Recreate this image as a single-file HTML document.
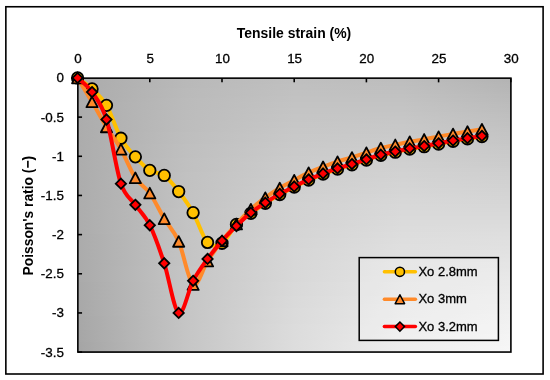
<!DOCTYPE html>
<html><head><meta charset="utf-8"><style>
html,body{margin:0;padding:0;background:#fff;}
svg{display:block;}
text{font-family:"Liberation Sans",Arial,sans-serif;fill:#000;}
</style></head><body>
<svg width="550" height="380" viewBox="0 0 550 380">
<defs>
<linearGradient id="s0" x2="1"><stop offset="0" stop-color="#ababab"/><stop offset="0.25" stop-color="#b8b8b8"/><stop offset="0.5" stop-color="#bfbfbf"/><stop offset="0.75" stop-color="#bdbdbd"/><stop offset="1" stop-color="#b4b4b4"/></linearGradient><linearGradient id="s1" x2="1"><stop offset="0" stop-color="#ababab"/><stop offset="0.25" stop-color="#b9b9b9"/><stop offset="0.5" stop-color="#bfbfbf"/><stop offset="0.75" stop-color="#bdbdbd"/><stop offset="1" stop-color="#b4b4b4"/></linearGradient><linearGradient id="s2" x2="1"><stop offset="0" stop-color="#ababab"/><stop offset="0.25" stop-color="#b9b9b9"/><stop offset="0.5" stop-color="#bfbfbf"/><stop offset="0.75" stop-color="#bebebe"/><stop offset="1" stop-color="#b5b5b5"/></linearGradient><linearGradient id="s3" x2="1"><stop offset="0" stop-color="#ababab"/><stop offset="0.25" stop-color="#b9b9b9"/><stop offset="0.5" stop-color="#c0c0c0"/><stop offset="0.75" stop-color="#bebebe"/><stop offset="1" stop-color="#b6b6b6"/></linearGradient><linearGradient id="s4" x2="1"><stop offset="0" stop-color="#ababab"/><stop offset="0.25" stop-color="#b9b9b9"/><stop offset="0.5" stop-color="#c0c0c0"/><stop offset="0.75" stop-color="#bfbfbf"/><stop offset="1" stop-color="#b6b6b6"/></linearGradient><linearGradient id="s5" x2="1"><stop offset="0" stop-color="#ababab"/><stop offset="0.25" stop-color="#bababa"/><stop offset="0.5" stop-color="#c0c0c0"/><stop offset="0.75" stop-color="#bfbfbf"/><stop offset="1" stop-color="#b7b7b7"/></linearGradient><linearGradient id="s6" x2="1"><stop offset="0" stop-color="#ababab"/><stop offset="0.25" stop-color="#bababa"/><stop offset="0.5" stop-color="#c1c1c1"/><stop offset="0.75" stop-color="#c0c0c0"/><stop offset="1" stop-color="#b7b7b7"/></linearGradient><linearGradient id="s7" x2="1"><stop offset="0" stop-color="#ababab"/><stop offset="0.25" stop-color="#bababa"/><stop offset="0.5" stop-color="#c1c1c1"/><stop offset="0.75" stop-color="#c0c0c0"/><stop offset="1" stop-color="#b8b8b8"/></linearGradient><linearGradient id="s8" x2="1"><stop offset="0" stop-color="#ababab"/><stop offset="0.25" stop-color="#bababa"/><stop offset="0.5" stop-color="#c1c1c1"/><stop offset="0.75" stop-color="#c1c1c1"/><stop offset="1" stop-color="#b9b9b9"/></linearGradient><linearGradient id="s9" x2="1"><stop offset="0" stop-color="#ababab"/><stop offset="0.25" stop-color="#bababa"/><stop offset="0.5" stop-color="#c2c2c2"/><stop offset="0.75" stop-color="#c1c1c1"/><stop offset="1" stop-color="#b9b9b9"/></linearGradient><linearGradient id="s10" x2="1"><stop offset="0" stop-color="#ababab"/><stop offset="0.25" stop-color="#bbbbbb"/><stop offset="0.5" stop-color="#c2c2c2"/><stop offset="0.75" stop-color="#c2c2c2"/><stop offset="1" stop-color="#bababa"/></linearGradient><linearGradient id="s11" x2="1"><stop offset="0" stop-color="#ababab"/><stop offset="0.25" stop-color="#bbbbbb"/><stop offset="0.5" stop-color="#c2c2c2"/><stop offset="0.75" stop-color="#c2c2c2"/><stop offset="1" stop-color="#bababa"/></linearGradient><linearGradient id="s12" x2="1"><stop offset="0" stop-color="#acacac"/><stop offset="0.25" stop-color="#bbbbbb"/><stop offset="0.5" stop-color="#c3c3c3"/><stop offset="0.75" stop-color="#c3c3c3"/><stop offset="1" stop-color="#bbbbbb"/></linearGradient><linearGradient id="s13" x2="1"><stop offset="0" stop-color="#acacac"/><stop offset="0.25" stop-color="#bbbbbb"/><stop offset="0.5" stop-color="#c3c3c3"/><stop offset="0.75" stop-color="#c3c3c3"/><stop offset="1" stop-color="#bcbcbc"/></linearGradient><linearGradient id="s14" x2="1"><stop offset="0" stop-color="#acacac"/><stop offset="0.25" stop-color="#bbbbbb"/><stop offset="0.5" stop-color="#c3c3c3"/><stop offset="0.75" stop-color="#c4c4c4"/><stop offset="1" stop-color="#bcbcbc"/></linearGradient><linearGradient id="s15" x2="1"><stop offset="0" stop-color="#acacac"/><stop offset="0.25" stop-color="#bbbbbb"/><stop offset="0.5" stop-color="#c4c4c4"/><stop offset="0.75" stop-color="#c4c4c4"/><stop offset="1" stop-color="#bdbdbd"/></linearGradient><linearGradient id="s16" x2="1"><stop offset="0" stop-color="#acacac"/><stop offset="0.25" stop-color="#bcbcbc"/><stop offset="0.5" stop-color="#c4c4c4"/><stop offset="0.75" stop-color="#c4c4c4"/><stop offset="1" stop-color="#bdbdbd"/></linearGradient><linearGradient id="s17" x2="1"><stop offset="0" stop-color="#acacac"/><stop offset="0.25" stop-color="#bcbcbc"/><stop offset="0.5" stop-color="#c4c4c4"/><stop offset="0.75" stop-color="#c5c5c5"/><stop offset="1" stop-color="#bebebe"/></linearGradient><linearGradient id="s18" x2="1"><stop offset="0" stop-color="#acacac"/><stop offset="0.25" stop-color="#bcbcbc"/><stop offset="0.5" stop-color="#c5c5c5"/><stop offset="0.75" stop-color="#c5c5c5"/><stop offset="1" stop-color="#bfbfbf"/></linearGradient><linearGradient id="s19" x2="1"><stop offset="0" stop-color="#acacac"/><stop offset="0.25" stop-color="#bcbcbc"/><stop offset="0.5" stop-color="#c5c5c5"/><stop offset="0.75" stop-color="#c6c6c6"/><stop offset="1" stop-color="#bfbfbf"/></linearGradient><linearGradient id="s20" x2="1"><stop offset="0" stop-color="#acacac"/><stop offset="0.25" stop-color="#bcbcbc"/><stop offset="0.5" stop-color="#c5c5c5"/><stop offset="0.75" stop-color="#c6c6c6"/><stop offset="1" stop-color="#c0c0c0"/></linearGradient><linearGradient id="s21" x2="1"><stop offset="0" stop-color="#acacac"/><stop offset="0.25" stop-color="#bdbdbd"/><stop offset="0.5" stop-color="#c5c5c5"/><stop offset="0.75" stop-color="#c7c7c7"/><stop offset="1" stop-color="#c0c0c0"/></linearGradient><linearGradient id="s22" x2="1"><stop offset="0" stop-color="#acacac"/><stop offset="0.25" stop-color="#bdbdbd"/><stop offset="0.5" stop-color="#c6c6c6"/><stop offset="0.75" stop-color="#c7c7c7"/><stop offset="1" stop-color="#c1c1c1"/></linearGradient><linearGradient id="s23" x2="1"><stop offset="0" stop-color="#acacac"/><stop offset="0.25" stop-color="#bdbdbd"/><stop offset="0.5" stop-color="#c6c6c6"/><stop offset="0.75" stop-color="#c8c8c8"/><stop offset="1" stop-color="#c1c1c1"/></linearGradient><linearGradient id="s24" x2="1"><stop offset="0" stop-color="#acacac"/><stop offset="0.25" stop-color="#bdbdbd"/><stop offset="0.5" stop-color="#c6c6c6"/><stop offset="0.75" stop-color="#c8c8c8"/><stop offset="1" stop-color="#c2c2c2"/></linearGradient><linearGradient id="s25" x2="1"><stop offset="0" stop-color="#acacac"/><stop offset="0.25" stop-color="#bdbdbd"/><stop offset="0.5" stop-color="#c7c7c7"/><stop offset="0.75" stop-color="#c8c8c8"/><stop offset="1" stop-color="#c3c3c3"/></linearGradient><linearGradient id="s26" x2="1"><stop offset="0" stop-color="#acacac"/><stop offset="0.25" stop-color="#bdbdbd"/><stop offset="0.5" stop-color="#c7c7c7"/><stop offset="0.75" stop-color="#c9c9c9"/><stop offset="1" stop-color="#c3c3c3"/></linearGradient><linearGradient id="s27" x2="1"><stop offset="0" stop-color="#acacac"/><stop offset="0.25" stop-color="#bebebe"/><stop offset="0.5" stop-color="#c7c7c7"/><stop offset="0.75" stop-color="#c9c9c9"/><stop offset="1" stop-color="#c4c4c4"/></linearGradient><linearGradient id="s28" x2="1"><stop offset="0" stop-color="#acacac"/><stop offset="0.25" stop-color="#bebebe"/><stop offset="0.5" stop-color="#c8c8c8"/><stop offset="0.75" stop-color="#cacaca"/><stop offset="1" stop-color="#c4c4c4"/></linearGradient><linearGradient id="s29" x2="1"><stop offset="0" stop-color="#acacac"/><stop offset="0.25" stop-color="#bebebe"/><stop offset="0.5" stop-color="#c8c8c8"/><stop offset="0.75" stop-color="#cacaca"/><stop offset="1" stop-color="#c5c5c5"/></linearGradient><linearGradient id="s30" x2="1"><stop offset="0" stop-color="#acacac"/><stop offset="0.25" stop-color="#bebebe"/><stop offset="0.5" stop-color="#c8c8c8"/><stop offset="0.75" stop-color="#cbcbcb"/><stop offset="1" stop-color="#c5c5c5"/></linearGradient><linearGradient id="s31" x2="1"><stop offset="0" stop-color="#acacac"/><stop offset="0.25" stop-color="#bebebe"/><stop offset="0.5" stop-color="#c8c8c8"/><stop offset="0.75" stop-color="#cbcbcb"/><stop offset="1" stop-color="#c6c6c6"/></linearGradient><linearGradient id="s32" x2="1"><stop offset="0" stop-color="#acacac"/><stop offset="0.25" stop-color="#bebebe"/><stop offset="0.5" stop-color="#c9c9c9"/><stop offset="0.75" stop-color="#cbcbcb"/><stop offset="1" stop-color="#c6c6c6"/></linearGradient><linearGradient id="s33" x2="1"><stop offset="0" stop-color="#acacac"/><stop offset="0.25" stop-color="#bfbfbf"/><stop offset="0.5" stop-color="#c9c9c9"/><stop offset="0.75" stop-color="#cccccc"/><stop offset="1" stop-color="#c7c7c7"/></linearGradient><linearGradient id="s34" x2="1"><stop offset="0" stop-color="#acacac"/><stop offset="0.25" stop-color="#bfbfbf"/><stop offset="0.5" stop-color="#c9c9c9"/><stop offset="0.75" stop-color="#cccccc"/><stop offset="1" stop-color="#c8c8c8"/></linearGradient><linearGradient id="s35" x2="1"><stop offset="0" stop-color="#acacac"/><stop offset="0.25" stop-color="#bfbfbf"/><stop offset="0.5" stop-color="#cacaca"/><stop offset="0.75" stop-color="#cdcdcd"/><stop offset="1" stop-color="#c8c8c8"/></linearGradient><linearGradient id="s36" x2="1"><stop offset="0" stop-color="#acacac"/><stop offset="0.25" stop-color="#bfbfbf"/><stop offset="0.5" stop-color="#cacaca"/><stop offset="0.75" stop-color="#cdcdcd"/><stop offset="1" stop-color="#c9c9c9"/></linearGradient><linearGradient id="s37" x2="1"><stop offset="0" stop-color="#acacac"/><stop offset="0.25" stop-color="#bfbfbf"/><stop offset="0.5" stop-color="#cacaca"/><stop offset="0.75" stop-color="#cecece"/><stop offset="1" stop-color="#c9c9c9"/></linearGradient><linearGradient id="s38" x2="1"><stop offset="0" stop-color="#acacac"/><stop offset="0.25" stop-color="#bfbfbf"/><stop offset="0.5" stop-color="#cacaca"/><stop offset="0.75" stop-color="#cecece"/><stop offset="1" stop-color="#cacaca"/></linearGradient><linearGradient id="s39" x2="1"><stop offset="0" stop-color="#acacac"/><stop offset="0.25" stop-color="#bfbfbf"/><stop offset="0.5" stop-color="#cbcbcb"/><stop offset="0.75" stop-color="#cecece"/><stop offset="1" stop-color="#cacaca"/></linearGradient><linearGradient id="s40" x2="1"><stop offset="0" stop-color="#acacac"/><stop offset="0.25" stop-color="#c0c0c0"/><stop offset="0.5" stop-color="#cbcbcb"/><stop offset="0.75" stop-color="#cfcfcf"/><stop offset="1" stop-color="#cbcbcb"/></linearGradient><linearGradient id="s41" x2="1"><stop offset="0" stop-color="#acacac"/><stop offset="0.25" stop-color="#c0c0c0"/><stop offset="0.5" stop-color="#cbcbcb"/><stop offset="0.75" stop-color="#cfcfcf"/><stop offset="1" stop-color="#cbcbcb"/></linearGradient><linearGradient id="s42" x2="1"><stop offset="0" stop-color="#acacac"/><stop offset="0.25" stop-color="#c0c0c0"/><stop offset="0.5" stop-color="#cccccc"/><stop offset="0.75" stop-color="#d0d0d0"/><stop offset="1" stop-color="#cccccc"/></linearGradient><linearGradient id="s43" x2="1"><stop offset="0" stop-color="#acacac"/><stop offset="0.25" stop-color="#c0c0c0"/><stop offset="0.5" stop-color="#cccccc"/><stop offset="0.75" stop-color="#d0d0d0"/><stop offset="1" stop-color="#cccccc"/></linearGradient><linearGradient id="s44" x2="1"><stop offset="0" stop-color="#acacac"/><stop offset="0.25" stop-color="#c0c0c0"/><stop offset="0.5" stop-color="#cccccc"/><stop offset="0.75" stop-color="#d0d0d0"/><stop offset="1" stop-color="#cdcdcd"/></linearGradient><linearGradient id="s45" x2="1"><stop offset="0" stop-color="#acacac"/><stop offset="0.25" stop-color="#c0c0c0"/><stop offset="0.5" stop-color="#cccccc"/><stop offset="0.75" stop-color="#d1d1d1"/><stop offset="1" stop-color="#cecece"/></linearGradient><linearGradient id="s46" x2="1"><stop offset="0" stop-color="#acacac"/><stop offset="0.25" stop-color="#c0c0c0"/><stop offset="0.5" stop-color="#cdcdcd"/><stop offset="0.75" stop-color="#d1d1d1"/><stop offset="1" stop-color="#cecece"/></linearGradient><linearGradient id="s47" x2="1"><stop offset="0" stop-color="#acacac"/><stop offset="0.25" stop-color="#c1c1c1"/><stop offset="0.5" stop-color="#cdcdcd"/><stop offset="0.75" stop-color="#d2d2d2"/><stop offset="1" stop-color="#cfcfcf"/></linearGradient><linearGradient id="s48" x2="1"><stop offset="0" stop-color="#acacac"/><stop offset="0.25" stop-color="#c1c1c1"/><stop offset="0.5" stop-color="#cdcdcd"/><stop offset="0.75" stop-color="#d2d2d2"/><stop offset="1" stop-color="#cfcfcf"/></linearGradient><linearGradient id="s49" x2="1"><stop offset="0" stop-color="#acacac"/><stop offset="0.25" stop-color="#c1c1c1"/><stop offset="0.5" stop-color="#cdcdcd"/><stop offset="0.75" stop-color="#d2d2d2"/><stop offset="1" stop-color="#d0d0d0"/></linearGradient><linearGradient id="s50" x2="1"><stop offset="0" stop-color="#acacac"/><stop offset="0.25" stop-color="#c1c1c1"/><stop offset="0.5" stop-color="#cecece"/><stop offset="0.75" stop-color="#d3d3d3"/><stop offset="1" stop-color="#d0d0d0"/></linearGradient><linearGradient id="s51" x2="1"><stop offset="0" stop-color="#acacac"/><stop offset="0.25" stop-color="#c1c1c1"/><stop offset="0.5" stop-color="#cecece"/><stop offset="0.75" stop-color="#d3d3d3"/><stop offset="1" stop-color="#d1d1d1"/></linearGradient><linearGradient id="s52" x2="1"><stop offset="0" stop-color="#acacac"/><stop offset="0.25" stop-color="#c1c1c1"/><stop offset="0.5" stop-color="#cecece"/><stop offset="0.75" stop-color="#d4d4d4"/><stop offset="1" stop-color="#d1d1d1"/></linearGradient><linearGradient id="s53" x2="1"><stop offset="0" stop-color="#acacac"/><stop offset="0.25" stop-color="#c1c1c1"/><stop offset="0.5" stop-color="#cecece"/><stop offset="0.75" stop-color="#d4d4d4"/><stop offset="1" stop-color="#d2d2d2"/></linearGradient><linearGradient id="s54" x2="1"><stop offset="0" stop-color="#acacac"/><stop offset="0.25" stop-color="#c1c1c1"/><stop offset="0.5" stop-color="#cfcfcf"/><stop offset="0.75" stop-color="#d4d4d4"/><stop offset="1" stop-color="#d2d2d2"/></linearGradient><linearGradient id="s55" x2="1"><stop offset="0" stop-color="#acacac"/><stop offset="0.25" stop-color="#c1c1c1"/><stop offset="0.5" stop-color="#cfcfcf"/><stop offset="0.75" stop-color="#d5d5d5"/><stop offset="1" stop-color="#d3d3d3"/></linearGradient><linearGradient id="s56" x2="1"><stop offset="0" stop-color="#acacac"/><stop offset="0.25" stop-color="#c2c2c2"/><stop offset="0.5" stop-color="#cfcfcf"/><stop offset="0.75" stop-color="#d5d5d5"/><stop offset="1" stop-color="#d3d3d3"/></linearGradient><linearGradient id="s57" x2="1"><stop offset="0" stop-color="#acacac"/><stop offset="0.25" stop-color="#c2c2c2"/><stop offset="0.5" stop-color="#cfcfcf"/><stop offset="0.75" stop-color="#d5d5d5"/><stop offset="1" stop-color="#d4d4d4"/></linearGradient><linearGradient id="s58" x2="1"><stop offset="0" stop-color="#acacac"/><stop offset="0.25" stop-color="#c2c2c2"/><stop offset="0.5" stop-color="#d0d0d0"/><stop offset="0.75" stop-color="#d6d6d6"/><stop offset="1" stop-color="#d4d4d4"/></linearGradient><linearGradient id="s59" x2="1"><stop offset="0" stop-color="#acacac"/><stop offset="0.25" stop-color="#c2c2c2"/><stop offset="0.5" stop-color="#d0d0d0"/><stop offset="0.75" stop-color="#d6d6d6"/><stop offset="1" stop-color="#d5d5d5"/></linearGradient><linearGradient id="s60" x2="1"><stop offset="0" stop-color="#acacac"/><stop offset="0.25" stop-color="#c2c2c2"/><stop offset="0.5" stop-color="#d0d0d0"/><stop offset="0.75" stop-color="#d7d7d7"/><stop offset="1" stop-color="#d5d5d5"/></linearGradient><linearGradient id="s61" x2="1"><stop offset="0" stop-color="#acacac"/><stop offset="0.25" stop-color="#c2c2c2"/><stop offset="0.5" stop-color="#d0d0d0"/><stop offset="0.75" stop-color="#d7d7d7"/><stop offset="1" stop-color="#d6d6d6"/></linearGradient><linearGradient id="s62" x2="1"><stop offset="0" stop-color="#acacac"/><stop offset="0.25" stop-color="#c2c2c2"/><stop offset="0.5" stop-color="#d1d1d1"/><stop offset="0.75" stop-color="#d7d7d7"/><stop offset="1" stop-color="#d6d6d6"/></linearGradient><linearGradient id="s63" x2="1"><stop offset="0" stop-color="#acacac"/><stop offset="0.25" stop-color="#c2c2c2"/><stop offset="0.5" stop-color="#d1d1d1"/><stop offset="0.75" stop-color="#d8d8d8"/><stop offset="1" stop-color="#d7d7d7"/></linearGradient><linearGradient id="s64" x2="1"><stop offset="0" stop-color="#acacac"/><stop offset="0.25" stop-color="#c2c2c2"/><stop offset="0.5" stop-color="#d1d1d1"/><stop offset="0.75" stop-color="#d8d8d8"/><stop offset="1" stop-color="#d7d7d7"/></linearGradient><linearGradient id="s65" x2="1"><stop offset="0" stop-color="#acacac"/><stop offset="0.25" stop-color="#c3c3c3"/><stop offset="0.5" stop-color="#d1d1d1"/><stop offset="0.75" stop-color="#d8d8d8"/><stop offset="1" stop-color="#d8d8d8"/></linearGradient><linearGradient id="s66" x2="1"><stop offset="0" stop-color="#acacac"/><stop offset="0.25" stop-color="#c3c3c3"/><stop offset="0.5" stop-color="#d2d2d2"/><stop offset="0.75" stop-color="#d9d9d9"/><stop offset="1" stop-color="#d8d8d8"/></linearGradient><linearGradient id="s67" x2="1"><stop offset="0" stop-color="#acacac"/><stop offset="0.25" stop-color="#c3c3c3"/><stop offset="0.5" stop-color="#d2d2d2"/><stop offset="0.75" stop-color="#d9d9d9"/><stop offset="1" stop-color="#d9d9d9"/></linearGradient><linearGradient id="s68" x2="1"><stop offset="0" stop-color="#acacac"/><stop offset="0.25" stop-color="#c3c3c3"/><stop offset="0.5" stop-color="#d2d2d2"/><stop offset="0.75" stop-color="#d9d9d9"/><stop offset="1" stop-color="#d9d9d9"/></linearGradient><linearGradient id="s69" x2="1"><stop offset="0" stop-color="#acacac"/><stop offset="0.25" stop-color="#c3c3c3"/><stop offset="0.5" stop-color="#d2d2d2"/><stop offset="0.75" stop-color="#dadada"/><stop offset="1" stop-color="#dadada"/></linearGradient><linearGradient id="s70" x2="1"><stop offset="0" stop-color="#acacac"/><stop offset="0.25" stop-color="#c3c3c3"/><stop offset="0.5" stop-color="#d2d2d2"/><stop offset="0.75" stop-color="#dadada"/><stop offset="1" stop-color="#dadada"/></linearGradient><linearGradient id="s71" x2="1"><stop offset="0" stop-color="#acacac"/><stop offset="0.25" stop-color="#c3c3c3"/><stop offset="0.5" stop-color="#d3d3d3"/><stop offset="0.75" stop-color="#dbdbdb"/><stop offset="1" stop-color="#dbdbdb"/></linearGradient><linearGradient id="s72" x2="1"><stop offset="0" stop-color="#acacac"/><stop offset="0.25" stop-color="#c3c3c3"/><stop offset="0.5" stop-color="#d3d3d3"/><stop offset="0.75" stop-color="#dbdbdb"/><stop offset="1" stop-color="#dbdbdb"/></linearGradient><linearGradient id="s73" x2="1"><stop offset="0" stop-color="#acacac"/><stop offset="0.25" stop-color="#c3c3c3"/><stop offset="0.5" stop-color="#d3d3d3"/><stop offset="0.75" stop-color="#dbdbdb"/><stop offset="1" stop-color="#dcdcdc"/></linearGradient><linearGradient id="s74" x2="1"><stop offset="0" stop-color="#acacac"/><stop offset="0.25" stop-color="#c3c3c3"/><stop offset="0.5" stop-color="#d3d3d3"/><stop offset="0.75" stop-color="#dcdcdc"/><stop offset="1" stop-color="#dcdcdc"/></linearGradient><linearGradient id="s75" x2="1"><stop offset="0" stop-color="#acacac"/><stop offset="0.25" stop-color="#c3c3c3"/><stop offset="0.5" stop-color="#d4d4d4"/><stop offset="0.75" stop-color="#dcdcdc"/><stop offset="1" stop-color="#dddddd"/></linearGradient><linearGradient id="s76" x2="1"><stop offset="0" stop-color="#acacac"/><stop offset="0.25" stop-color="#c3c3c3"/><stop offset="0.5" stop-color="#d4d4d4"/><stop offset="0.75" stop-color="#dcdcdc"/><stop offset="1" stop-color="#dddddd"/></linearGradient><linearGradient id="s77" x2="1"><stop offset="0" stop-color="#acacac"/><stop offset="0.25" stop-color="#c4c4c4"/><stop offset="0.5" stop-color="#d4d4d4"/><stop offset="0.75" stop-color="#dddddd"/><stop offset="1" stop-color="#dedede"/></linearGradient><linearGradient id="s78" x2="1"><stop offset="0" stop-color="#ababab"/><stop offset="0.25" stop-color="#c4c4c4"/><stop offset="0.5" stop-color="#d4d4d4"/><stop offset="0.75" stop-color="#dddddd"/><stop offset="1" stop-color="#dedede"/></linearGradient><linearGradient id="s79" x2="1"><stop offset="0" stop-color="#ababab"/><stop offset="0.25" stop-color="#c4c4c4"/><stop offset="0.5" stop-color="#d4d4d4"/><stop offset="0.75" stop-color="#dddddd"/><stop offset="1" stop-color="#dfdfdf"/></linearGradient><linearGradient id="s80" x2="1"><stop offset="0" stop-color="#ababab"/><stop offset="0.25" stop-color="#c4c4c4"/><stop offset="0.5" stop-color="#d5d5d5"/><stop offset="0.75" stop-color="#dedede"/><stop offset="1" stop-color="#dfdfdf"/></linearGradient><linearGradient id="s81" x2="1"><stop offset="0" stop-color="#ababab"/><stop offset="0.25" stop-color="#c4c4c4"/><stop offset="0.5" stop-color="#d5d5d5"/><stop offset="0.75" stop-color="#dedede"/><stop offset="1" stop-color="#e0e0e0"/></linearGradient><linearGradient id="s82" x2="1"><stop offset="0" stop-color="#ababab"/><stop offset="0.25" stop-color="#c4c4c4"/><stop offset="0.5" stop-color="#d5d5d5"/><stop offset="0.75" stop-color="#dedede"/><stop offset="1" stop-color="#e0e0e0"/></linearGradient><linearGradient id="s83" x2="1"><stop offset="0" stop-color="#ababab"/><stop offset="0.25" stop-color="#c4c4c4"/><stop offset="0.5" stop-color="#d5d5d5"/><stop offset="0.75" stop-color="#dfdfdf"/><stop offset="1" stop-color="#e0e0e0"/></linearGradient><linearGradient id="s84" x2="1"><stop offset="0" stop-color="#ababab"/><stop offset="0.25" stop-color="#c4c4c4"/><stop offset="0.5" stop-color="#d5d5d5"/><stop offset="0.75" stop-color="#dfdfdf"/><stop offset="1" stop-color="#e1e1e1"/></linearGradient><linearGradient id="s85" x2="1"><stop offset="0" stop-color="#ababab"/><stop offset="0.25" stop-color="#c4c4c4"/><stop offset="0.5" stop-color="#d6d6d6"/><stop offset="0.75" stop-color="#dfdfdf"/><stop offset="1" stop-color="#e1e1e1"/></linearGradient><linearGradient id="s86" x2="1"><stop offset="0" stop-color="#ababab"/><stop offset="0.25" stop-color="#c4c4c4"/><stop offset="0.5" stop-color="#d6d6d6"/><stop offset="0.75" stop-color="#e0e0e0"/><stop offset="1" stop-color="#e2e2e2"/></linearGradient><linearGradient id="s87" x2="1"><stop offset="0" stop-color="#ababab"/><stop offset="0.25" stop-color="#c4c4c4"/><stop offset="0.5" stop-color="#d6d6d6"/><stop offset="0.75" stop-color="#e0e0e0"/><stop offset="1" stop-color="#e2e2e2"/></linearGradient><linearGradient id="s88" x2="1"><stop offset="0" stop-color="#ababab"/><stop offset="0.25" stop-color="#c4c4c4"/><stop offset="0.5" stop-color="#d6d6d6"/><stop offset="0.75" stop-color="#e0e0e0"/><stop offset="1" stop-color="#e3e3e3"/></linearGradient><linearGradient id="s89" x2="1"><stop offset="0" stop-color="#ababab"/><stop offset="0.25" stop-color="#c4c4c4"/><stop offset="0.5" stop-color="#d6d6d6"/><stop offset="0.75" stop-color="#e1e1e1"/><stop offset="1" stop-color="#e3e3e3"/></linearGradient><linearGradient id="s90" x2="1"><stop offset="0" stop-color="#ababab"/><stop offset="0.25" stop-color="#c4c4c4"/><stop offset="0.5" stop-color="#d6d6d6"/><stop offset="0.75" stop-color="#e1e1e1"/><stop offset="1" stop-color="#e4e4e4"/></linearGradient><linearGradient id="s91" x2="1"><stop offset="0" stop-color="#aaaaaa"/><stop offset="0.25" stop-color="#c4c4c4"/><stop offset="0.5" stop-color="#d7d7d7"/><stop offset="0.75" stop-color="#e1e1e1"/><stop offset="1" stop-color="#e4e4e4"/></linearGradient><linearGradient id="s92" x2="1"><stop offset="0" stop-color="#aaaaaa"/><stop offset="0.25" stop-color="#c4c4c4"/><stop offset="0.5" stop-color="#d7d7d7"/><stop offset="0.75" stop-color="#e2e2e2"/><stop offset="1" stop-color="#e5e5e5"/></linearGradient><linearGradient id="s93" x2="1"><stop offset="0" stop-color="#aaaaaa"/><stop offset="0.25" stop-color="#c4c4c4"/><stop offset="0.5" stop-color="#d7d7d7"/><stop offset="0.75" stop-color="#e2e2e2"/><stop offset="1" stop-color="#e5e5e5"/></linearGradient><linearGradient id="s94" x2="1"><stop offset="0" stop-color="#aaaaaa"/><stop offset="0.25" stop-color="#c5c5c5"/><stop offset="0.5" stop-color="#d7d7d7"/><stop offset="0.75" stop-color="#e2e2e2"/><stop offset="1" stop-color="#e5e5e5"/></linearGradient><linearGradient id="s95" x2="1"><stop offset="0" stop-color="#aaaaaa"/><stop offset="0.25" stop-color="#c5c5c5"/><stop offset="0.5" stop-color="#d7d7d7"/><stop offset="0.75" stop-color="#e2e2e2"/><stop offset="1" stop-color="#e6e6e6"/></linearGradient><linearGradient id="s96" x2="1"><stop offset="0" stop-color="#aaaaaa"/><stop offset="0.25" stop-color="#c5c5c5"/><stop offset="0.5" stop-color="#d8d8d8"/><stop offset="0.75" stop-color="#e3e3e3"/><stop offset="1" stop-color="#e6e6e6"/></linearGradient><linearGradient id="s97" x2="1"><stop offset="0" stop-color="#aaaaaa"/><stop offset="0.25" stop-color="#c5c5c5"/><stop offset="0.5" stop-color="#d8d8d8"/><stop offset="0.75" stop-color="#e3e3e3"/><stop offset="1" stop-color="#e7e7e7"/></linearGradient><linearGradient id="s98" x2="1"><stop offset="0" stop-color="#aaaaaa"/><stop offset="0.25" stop-color="#c5c5c5"/><stop offset="0.5" stop-color="#d8d8d8"/><stop offset="0.75" stop-color="#e3e3e3"/><stop offset="1" stop-color="#e7e7e7"/></linearGradient><linearGradient id="s99" x2="1"><stop offset="0" stop-color="#aaaaaa"/><stop offset="0.25" stop-color="#c5c5c5"/><stop offset="0.5" stop-color="#d8d8d8"/><stop offset="0.75" stop-color="#e4e4e4"/><stop offset="1" stop-color="#e8e8e8"/></linearGradient><linearGradient id="s100" x2="1"><stop offset="0" stop-color="#aaaaaa"/><stop offset="0.25" stop-color="#c5c5c5"/><stop offset="0.5" stop-color="#d8d8d8"/><stop offset="0.75" stop-color="#e4e4e4"/><stop offset="1" stop-color="#e8e8e8"/></linearGradient><linearGradient id="s101" x2="1"><stop offset="0" stop-color="#aaaaaa"/><stop offset="0.25" stop-color="#c5c5c5"/><stop offset="0.5" stop-color="#d8d8d8"/><stop offset="0.75" stop-color="#e4e4e4"/><stop offset="1" stop-color="#e9e9e9"/></linearGradient><linearGradient id="s102" x2="1"><stop offset="0" stop-color="#a9a9a9"/><stop offset="0.25" stop-color="#c5c5c5"/><stop offset="0.5" stop-color="#d9d9d9"/><stop offset="0.75" stop-color="#e5e5e5"/><stop offset="1" stop-color="#e9e9e9"/></linearGradient><linearGradient id="s103" x2="1"><stop offset="0" stop-color="#a9a9a9"/><stop offset="0.25" stop-color="#c5c5c5"/><stop offset="0.5" stop-color="#d9d9d9"/><stop offset="0.75" stop-color="#e5e5e5"/><stop offset="1" stop-color="#e9e9e9"/></linearGradient><linearGradient id="s104" x2="1"><stop offset="0" stop-color="#a9a9a9"/><stop offset="0.25" stop-color="#c5c5c5"/><stop offset="0.5" stop-color="#d9d9d9"/><stop offset="0.75" stop-color="#e5e5e5"/><stop offset="1" stop-color="#eaeaea"/></linearGradient><linearGradient id="s105" x2="1"><stop offset="0" stop-color="#a9a9a9"/><stop offset="0.25" stop-color="#c5c5c5"/><stop offset="0.5" stop-color="#d9d9d9"/><stop offset="0.75" stop-color="#e5e5e5"/><stop offset="1" stop-color="#eaeaea"/></linearGradient><linearGradient id="s106" x2="1"><stop offset="0" stop-color="#a9a9a9"/><stop offset="0.25" stop-color="#c5c5c5"/><stop offset="0.5" stop-color="#d9d9d9"/><stop offset="0.75" stop-color="#e6e6e6"/><stop offset="1" stop-color="#ebebeb"/></linearGradient><linearGradient id="s107" x2="1"><stop offset="0" stop-color="#a9a9a9"/><stop offset="0.25" stop-color="#c5c5c5"/><stop offset="0.5" stop-color="#d9d9d9"/><stop offset="0.75" stop-color="#e6e6e6"/><stop offset="1" stop-color="#ebebeb"/></linearGradient><linearGradient id="s108" x2="1"><stop offset="0" stop-color="#a9a9a9"/><stop offset="0.25" stop-color="#c5c5c5"/><stop offset="0.5" stop-color="#d9d9d9"/><stop offset="0.75" stop-color="#e6e6e6"/><stop offset="1" stop-color="#ececec"/></linearGradient><linearGradient id="s109" x2="1"><stop offset="0" stop-color="#a9a9a9"/><stop offset="0.25" stop-color="#c5c5c5"/><stop offset="0.5" stop-color="#dadada"/><stop offset="0.75" stop-color="#e7e7e7"/><stop offset="1" stop-color="#ececec"/></linearGradient><linearGradient id="s110" x2="1"><stop offset="0" stop-color="#a9a9a9"/><stop offset="0.25" stop-color="#c5c5c5"/><stop offset="0.5" stop-color="#dadada"/><stop offset="0.75" stop-color="#e7e7e7"/><stop offset="1" stop-color="#ececec"/></linearGradient><linearGradient id="s111" x2="1"><stop offset="0" stop-color="#a8a8a8"/><stop offset="0.25" stop-color="#c5c5c5"/><stop offset="0.5" stop-color="#dadada"/><stop offset="0.75" stop-color="#e7e7e7"/><stop offset="1" stop-color="#ededed"/></linearGradient><linearGradient id="s112" x2="1"><stop offset="0" stop-color="#a8a8a8"/><stop offset="0.25" stop-color="#c5c5c5"/><stop offset="0.5" stop-color="#dadada"/><stop offset="0.75" stop-color="#e7e7e7"/><stop offset="1" stop-color="#ededed"/></linearGradient><linearGradient id="s113" x2="1"><stop offset="0" stop-color="#a8a8a8"/><stop offset="0.25" stop-color="#c5c5c5"/><stop offset="0.5" stop-color="#dadada"/><stop offset="0.75" stop-color="#e8e8e8"/><stop offset="1" stop-color="#eeeeee"/></linearGradient><linearGradient id="s114" x2="1"><stop offset="0" stop-color="#a8a8a8"/><stop offset="0.25" stop-color="#c5c5c5"/><stop offset="0.5" stop-color="#dadada"/><stop offset="0.75" stop-color="#e8e8e8"/><stop offset="1" stop-color="#eeeeee"/></linearGradient><linearGradient id="s115" x2="1"><stop offset="0" stop-color="#a8a8a8"/><stop offset="0.25" stop-color="#c5c5c5"/><stop offset="0.5" stop-color="#dbdbdb"/><stop offset="0.75" stop-color="#e8e8e8"/><stop offset="1" stop-color="#eeeeee"/></linearGradient><linearGradient id="s116" x2="1"><stop offset="0" stop-color="#a8a8a8"/><stop offset="0.25" stop-color="#c5c5c5"/><stop offset="0.5" stop-color="#dbdbdb"/><stop offset="0.75" stop-color="#e9e9e9"/><stop offset="1" stop-color="#efefef"/></linearGradient><linearGradient id="s117" x2="1"><stop offset="0" stop-color="#a8a8a8"/><stop offset="0.25" stop-color="#c5c5c5"/><stop offset="0.5" stop-color="#dbdbdb"/><stop offset="0.75" stop-color="#e9e9e9"/><stop offset="1" stop-color="#efefef"/></linearGradient><linearGradient id="s118" x2="1"><stop offset="0" stop-color="#a8a8a8"/><stop offset="0.25" stop-color="#c5c5c5"/><stop offset="0.5" stop-color="#dbdbdb"/><stop offset="0.75" stop-color="#e9e9e9"/><stop offset="1" stop-color="#f0f0f0"/></linearGradient><linearGradient id="s119" x2="1"><stop offset="0" stop-color="#a7a7a7"/><stop offset="0.25" stop-color="#c5c5c5"/><stop offset="0.5" stop-color="#dbdbdb"/><stop offset="0.75" stop-color="#e9e9e9"/><stop offset="1" stop-color="#f0f0f0"/></linearGradient><linearGradient id="s120" x2="1"><stop offset="0" stop-color="#a7a7a7"/><stop offset="0.25" stop-color="#c5c5c5"/><stop offset="0.5" stop-color="#dbdbdb"/><stop offset="0.75" stop-color="#eaeaea"/><stop offset="1" stop-color="#f0f0f0"/></linearGradient><linearGradient id="s121" x2="1"><stop offset="0" stop-color="#a7a7a7"/><stop offset="0.25" stop-color="#c5c5c5"/><stop offset="0.5" stop-color="#dbdbdb"/><stop offset="0.75" stop-color="#eaeaea"/><stop offset="1" stop-color="#f1f1f1"/></linearGradient><linearGradient id="s122" x2="1"><stop offset="0" stop-color="#a7a7a7"/><stop offset="0.25" stop-color="#c5c5c5"/><stop offset="0.5" stop-color="#dbdbdb"/><stop offset="0.75" stop-color="#eaeaea"/><stop offset="1" stop-color="#f1f1f1"/></linearGradient><linearGradient id="s123" x2="1"><stop offset="0" stop-color="#a7a7a7"/><stop offset="0.25" stop-color="#c5c5c5"/><stop offset="0.5" stop-color="#dcdcdc"/><stop offset="0.75" stop-color="#eaeaea"/><stop offset="1" stop-color="#f2f2f2"/></linearGradient><linearGradient id="s124" x2="1"><stop offset="0" stop-color="#a7a7a7"/><stop offset="0.25" stop-color="#c5c5c5"/><stop offset="0.5" stop-color="#dcdcdc"/><stop offset="0.75" stop-color="#ebebeb"/><stop offset="1" stop-color="#f2f2f2"/></linearGradient><linearGradient id="s125" x2="1"><stop offset="0" stop-color="#a7a7a7"/><stop offset="0.25" stop-color="#c5c5c5"/><stop offset="0.5" stop-color="#dcdcdc"/><stop offset="0.75" stop-color="#ebebeb"/><stop offset="1" stop-color="#f2f2f2"/></linearGradient><linearGradient id="s126" x2="1"><stop offset="0" stop-color="#a6a6a6"/><stop offset="0.25" stop-color="#c5c5c5"/><stop offset="0.5" stop-color="#dcdcdc"/><stop offset="0.75" stop-color="#ebebeb"/><stop offset="1" stop-color="#f3f3f3"/></linearGradient><linearGradient id="s127" x2="1"><stop offset="0" stop-color="#a6a6a6"/><stop offset="0.25" stop-color="#c5c5c5"/><stop offset="0.5" stop-color="#dcdcdc"/><stop offset="0.75" stop-color="#ebebeb"/><stop offset="1" stop-color="#f3f3f3"/></linearGradient><linearGradient id="s128" x2="1"><stop offset="0" stop-color="#a6a6a6"/><stop offset="0.25" stop-color="#c5c5c5"/><stop offset="0.5" stop-color="#dcdcdc"/><stop offset="0.75" stop-color="#ececec"/><stop offset="1" stop-color="#f4f4f4"/></linearGradient><linearGradient id="s129" x2="1"><stop offset="0" stop-color="#a6a6a6"/><stop offset="0.25" stop-color="#c5c5c5"/><stop offset="0.5" stop-color="#dcdcdc"/><stop offset="0.75" stop-color="#ececec"/><stop offset="1" stop-color="#f4f4f4"/></linearGradient><linearGradient id="s130" x2="1"><stop offset="0" stop-color="#a6a6a6"/><stop offset="0.25" stop-color="#c5c5c5"/><stop offset="0.5" stop-color="#dcdcdc"/><stop offset="0.75" stop-color="#ececec"/><stop offset="1" stop-color="#f4f4f4"/></linearGradient><linearGradient id="s131" x2="1"><stop offset="0" stop-color="#a6a6a6"/><stop offset="0.25" stop-color="#c5c5c5"/><stop offset="0.5" stop-color="#dddddd"/><stop offset="0.75" stop-color="#ececec"/><stop offset="1" stop-color="#f5f5f5"/></linearGradient><linearGradient id="s132" x2="1"><stop offset="0" stop-color="#a5a5a5"/><stop offset="0.25" stop-color="#c5c5c5"/><stop offset="0.5" stop-color="#dddddd"/><stop offset="0.75" stop-color="#ededed"/><stop offset="1" stop-color="#f5f5f5"/></linearGradient><linearGradient id="s133" x2="1"><stop offset="0" stop-color="#a5a5a5"/><stop offset="0.25" stop-color="#c5c5c5"/><stop offset="0.5" stop-color="#dddddd"/><stop offset="0.75" stop-color="#ededed"/><stop offset="1" stop-color="#f5f5f5"/></linearGradient><linearGradient id="s134" x2="1"><stop offset="0" stop-color="#a5a5a5"/><stop offset="0.25" stop-color="#c5c5c5"/><stop offset="0.5" stop-color="#dddddd"/><stop offset="0.75" stop-color="#ededed"/><stop offset="1" stop-color="#f6f6f6"/></linearGradient><linearGradient id="s135" x2="1"><stop offset="0" stop-color="#a5a5a5"/><stop offset="0.25" stop-color="#c5c5c5"/><stop offset="0.5" stop-color="#dddddd"/><stop offset="0.75" stop-color="#ededed"/><stop offset="1" stop-color="#f6f6f6"/></linearGradient><linearGradient id="s136" x2="1"><stop offset="0" stop-color="#a5a5a5"/><stop offset="0.25" stop-color="#c5c5c5"/><stop offset="0.5" stop-color="#dddddd"/><stop offset="0.75" stop-color="#eeeeee"/><stop offset="1" stop-color="#f7f7f7"/></linearGradient>
</defs>
<rect x="5.85" y="6.75" width="537.25" height="367.25" fill="#fff" stroke="#000" stroke-width="1.6"/>
<text x="294" y="37.8" text-anchor="middle" font-weight="bold" font-size="15.4" textLength="114.5" lengthAdjust="spacingAndGlyphs">Tensile strain (%)</text>
<text transform="translate(32.9,215.7) rotate(-90)" text-anchor="middle" font-weight="bold" font-size="15.4" textLength="119.5" lengthAdjust="spacingAndGlyphs">Poisson's ratio (−)</text>
<g shape-rendering="crispEdges"><rect x="77.85" y="78.15" width="433.05" height="2.50" fill="url(#s0)"/><rect x="77.85" y="80.15" width="433.05" height="2.50" fill="url(#s1)"/><rect x="77.85" y="82.15" width="433.05" height="2.50" fill="url(#s2)"/><rect x="77.85" y="84.15" width="433.05" height="2.50" fill="url(#s3)"/><rect x="77.85" y="86.15" width="433.05" height="2.50" fill="url(#s4)"/><rect x="77.85" y="88.15" width="433.05" height="2.50" fill="url(#s5)"/><rect x="77.85" y="90.15" width="433.05" height="2.50" fill="url(#s6)"/><rect x="77.85" y="92.15" width="433.05" height="2.50" fill="url(#s7)"/><rect x="77.85" y="94.15" width="433.05" height="2.50" fill="url(#s8)"/><rect x="77.85" y="96.15" width="433.05" height="2.50" fill="url(#s9)"/><rect x="77.85" y="98.15" width="433.05" height="2.50" fill="url(#s10)"/><rect x="77.85" y="100.15" width="433.05" height="2.50" fill="url(#s11)"/><rect x="77.85" y="102.15" width="433.05" height="2.50" fill="url(#s12)"/><rect x="77.85" y="104.15" width="433.05" height="2.50" fill="url(#s13)"/><rect x="77.85" y="106.15" width="433.05" height="2.50" fill="url(#s14)"/><rect x="77.85" y="108.15" width="433.05" height="2.50" fill="url(#s15)"/><rect x="77.85" y="110.15" width="433.05" height="2.50" fill="url(#s16)"/><rect x="77.85" y="112.15" width="433.05" height="2.50" fill="url(#s17)"/><rect x="77.85" y="114.15" width="433.05" height="2.50" fill="url(#s18)"/><rect x="77.85" y="116.15" width="433.05" height="2.50" fill="url(#s19)"/><rect x="77.85" y="118.15" width="433.05" height="2.50" fill="url(#s20)"/><rect x="77.85" y="120.15" width="433.05" height="2.50" fill="url(#s21)"/><rect x="77.85" y="122.15" width="433.05" height="2.50" fill="url(#s22)"/><rect x="77.85" y="124.15" width="433.05" height="2.50" fill="url(#s23)"/><rect x="77.85" y="126.15" width="433.05" height="2.50" fill="url(#s24)"/><rect x="77.85" y="128.15" width="433.05" height="2.50" fill="url(#s25)"/><rect x="77.85" y="130.15" width="433.05" height="2.50" fill="url(#s26)"/><rect x="77.85" y="132.15" width="433.05" height="2.50" fill="url(#s27)"/><rect x="77.85" y="134.15" width="433.05" height="2.50" fill="url(#s28)"/><rect x="77.85" y="136.15" width="433.05" height="2.50" fill="url(#s29)"/><rect x="77.85" y="138.15" width="433.05" height="2.50" fill="url(#s30)"/><rect x="77.85" y="140.15" width="433.05" height="2.50" fill="url(#s31)"/><rect x="77.85" y="142.15" width="433.05" height="2.50" fill="url(#s32)"/><rect x="77.85" y="144.15" width="433.05" height="2.50" fill="url(#s33)"/><rect x="77.85" y="146.15" width="433.05" height="2.50" fill="url(#s34)"/><rect x="77.85" y="148.15" width="433.05" height="2.50" fill="url(#s35)"/><rect x="77.85" y="150.15" width="433.05" height="2.50" fill="url(#s36)"/><rect x="77.85" y="152.15" width="433.05" height="2.50" fill="url(#s37)"/><rect x="77.85" y="154.15" width="433.05" height="2.50" fill="url(#s38)"/><rect x="77.85" y="156.15" width="433.05" height="2.50" fill="url(#s39)"/><rect x="77.85" y="158.15" width="433.05" height="2.50" fill="url(#s40)"/><rect x="77.85" y="160.15" width="433.05" height="2.50" fill="url(#s41)"/><rect x="77.85" y="162.15" width="433.05" height="2.50" fill="url(#s42)"/><rect x="77.85" y="164.15" width="433.05" height="2.50" fill="url(#s43)"/><rect x="77.85" y="166.15" width="433.05" height="2.50" fill="url(#s44)"/><rect x="77.85" y="168.15" width="433.05" height="2.50" fill="url(#s45)"/><rect x="77.85" y="170.15" width="433.05" height="2.50" fill="url(#s46)"/><rect x="77.85" y="172.15" width="433.05" height="2.50" fill="url(#s47)"/><rect x="77.85" y="174.15" width="433.05" height="2.50" fill="url(#s48)"/><rect x="77.85" y="176.15" width="433.05" height="2.50" fill="url(#s49)"/><rect x="77.85" y="178.15" width="433.05" height="2.50" fill="url(#s50)"/><rect x="77.85" y="180.15" width="433.05" height="2.50" fill="url(#s51)"/><rect x="77.85" y="182.15" width="433.05" height="2.50" fill="url(#s52)"/><rect x="77.85" y="184.15" width="433.05" height="2.50" fill="url(#s53)"/><rect x="77.85" y="186.15" width="433.05" height="2.50" fill="url(#s54)"/><rect x="77.85" y="188.15" width="433.05" height="2.50" fill="url(#s55)"/><rect x="77.85" y="190.15" width="433.05" height="2.50" fill="url(#s56)"/><rect x="77.85" y="192.15" width="433.05" height="2.50" fill="url(#s57)"/><rect x="77.85" y="194.15" width="433.05" height="2.50" fill="url(#s58)"/><rect x="77.85" y="196.15" width="433.05" height="2.50" fill="url(#s59)"/><rect x="77.85" y="198.15" width="433.05" height="2.50" fill="url(#s60)"/><rect x="77.85" y="200.15" width="433.05" height="2.50" fill="url(#s61)"/><rect x="77.85" y="202.15" width="433.05" height="2.50" fill="url(#s62)"/><rect x="77.85" y="204.15" width="433.05" height="2.50" fill="url(#s63)"/><rect x="77.85" y="206.15" width="433.05" height="2.50" fill="url(#s64)"/><rect x="77.85" y="208.15" width="433.05" height="2.50" fill="url(#s65)"/><rect x="77.85" y="210.15" width="433.05" height="2.50" fill="url(#s66)"/><rect x="77.85" y="212.15" width="433.05" height="2.50" fill="url(#s67)"/><rect x="77.85" y="214.15" width="433.05" height="2.50" fill="url(#s68)"/><rect x="77.85" y="216.15" width="433.05" height="2.50" fill="url(#s69)"/><rect x="77.85" y="218.15" width="433.05" height="2.50" fill="url(#s70)"/><rect x="77.85" y="220.15" width="433.05" height="2.50" fill="url(#s71)"/><rect x="77.85" y="222.15" width="433.05" height="2.50" fill="url(#s72)"/><rect x="77.85" y="224.15" width="433.05" height="2.50" fill="url(#s73)"/><rect x="77.85" y="226.15" width="433.05" height="2.50" fill="url(#s74)"/><rect x="77.85" y="228.15" width="433.05" height="2.50" fill="url(#s75)"/><rect x="77.85" y="230.15" width="433.05" height="2.50" fill="url(#s76)"/><rect x="77.85" y="232.15" width="433.05" height="2.50" fill="url(#s77)"/><rect x="77.85" y="234.15" width="433.05" height="2.50" fill="url(#s78)"/><rect x="77.85" y="236.15" width="433.05" height="2.50" fill="url(#s79)"/><rect x="77.85" y="238.15" width="433.05" height="2.50" fill="url(#s80)"/><rect x="77.85" y="240.15" width="433.05" height="2.50" fill="url(#s81)"/><rect x="77.85" y="242.15" width="433.05" height="2.50" fill="url(#s82)"/><rect x="77.85" y="244.15" width="433.05" height="2.50" fill="url(#s83)"/><rect x="77.85" y="246.15" width="433.05" height="2.50" fill="url(#s84)"/><rect x="77.85" y="248.15" width="433.05" height="2.50" fill="url(#s85)"/><rect x="77.85" y="250.15" width="433.05" height="2.50" fill="url(#s86)"/><rect x="77.85" y="252.15" width="433.05" height="2.50" fill="url(#s87)"/><rect x="77.85" y="254.15" width="433.05" height="2.50" fill="url(#s88)"/><rect x="77.85" y="256.15" width="433.05" height="2.50" fill="url(#s89)"/><rect x="77.85" y="258.15" width="433.05" height="2.50" fill="url(#s90)"/><rect x="77.85" y="260.15" width="433.05" height="2.50" fill="url(#s91)"/><rect x="77.85" y="262.15" width="433.05" height="2.50" fill="url(#s92)"/><rect x="77.85" y="264.15" width="433.05" height="2.50" fill="url(#s93)"/><rect x="77.85" y="266.15" width="433.05" height="2.50" fill="url(#s94)"/><rect x="77.85" y="268.15" width="433.05" height="2.50" fill="url(#s95)"/><rect x="77.85" y="270.15" width="433.05" height="2.50" fill="url(#s96)"/><rect x="77.85" y="272.15" width="433.05" height="2.50" fill="url(#s97)"/><rect x="77.85" y="274.15" width="433.05" height="2.50" fill="url(#s98)"/><rect x="77.85" y="276.15" width="433.05" height="2.50" fill="url(#s99)"/><rect x="77.85" y="278.15" width="433.05" height="2.50" fill="url(#s100)"/><rect x="77.85" y="280.15" width="433.05" height="2.50" fill="url(#s101)"/><rect x="77.85" y="282.15" width="433.05" height="2.50" fill="url(#s102)"/><rect x="77.85" y="284.15" width="433.05" height="2.50" fill="url(#s103)"/><rect x="77.85" y="286.15" width="433.05" height="2.50" fill="url(#s104)"/><rect x="77.85" y="288.15" width="433.05" height="2.50" fill="url(#s105)"/><rect x="77.85" y="290.15" width="433.05" height="2.50" fill="url(#s106)"/><rect x="77.85" y="292.15" width="433.05" height="2.50" fill="url(#s107)"/><rect x="77.85" y="294.15" width="433.05" height="2.50" fill="url(#s108)"/><rect x="77.85" y="296.15" width="433.05" height="2.50" fill="url(#s109)"/><rect x="77.85" y="298.15" width="433.05" height="2.50" fill="url(#s110)"/><rect x="77.85" y="300.15" width="433.05" height="2.50" fill="url(#s111)"/><rect x="77.85" y="302.15" width="433.05" height="2.50" fill="url(#s112)"/><rect x="77.85" y="304.15" width="433.05" height="2.50" fill="url(#s113)"/><rect x="77.85" y="306.15" width="433.05" height="2.50" fill="url(#s114)"/><rect x="77.85" y="308.15" width="433.05" height="2.50" fill="url(#s115)"/><rect x="77.85" y="310.15" width="433.05" height="2.50" fill="url(#s116)"/><rect x="77.85" y="312.15" width="433.05" height="2.50" fill="url(#s117)"/><rect x="77.85" y="314.15" width="433.05" height="2.50" fill="url(#s118)"/><rect x="77.85" y="316.15" width="433.05" height="2.50" fill="url(#s119)"/><rect x="77.85" y="318.15" width="433.05" height="2.50" fill="url(#s120)"/><rect x="77.85" y="320.15" width="433.05" height="2.50" fill="url(#s121)"/><rect x="77.85" y="322.15" width="433.05" height="2.50" fill="url(#s122)"/><rect x="77.85" y="324.15" width="433.05" height="2.50" fill="url(#s123)"/><rect x="77.85" y="326.15" width="433.05" height="2.50" fill="url(#s124)"/><rect x="77.85" y="328.15" width="433.05" height="2.50" fill="url(#s125)"/><rect x="77.85" y="330.15" width="433.05" height="2.50" fill="url(#s126)"/><rect x="77.85" y="332.15" width="433.05" height="2.50" fill="url(#s127)"/><rect x="77.85" y="334.15" width="433.05" height="2.50" fill="url(#s128)"/><rect x="77.85" y="336.15" width="433.05" height="2.50" fill="url(#s129)"/><rect x="77.85" y="338.15" width="433.05" height="2.50" fill="url(#s130)"/><rect x="77.85" y="340.15" width="433.05" height="2.50" fill="url(#s131)"/><rect x="77.85" y="342.15" width="433.05" height="2.50" fill="url(#s132)"/><rect x="77.85" y="344.15" width="433.05" height="2.50" fill="url(#s133)"/><rect x="77.85" y="346.15" width="433.05" height="2.50" fill="url(#s134)"/><rect x="77.85" y="348.15" width="433.05" height="2.50" fill="url(#s135)"/><rect x="77.85" y="350.15" width="433.05" height="2.40" fill="url(#s136)"/></g>
<rect x="77.85" y="78.15" width="433.05" height="273.90" fill="none" stroke="#000" stroke-width="1.6"/>
<g stroke="#000" stroke-width="1.6"><line x1="77.60" y1="78.15" x2="77.60" y2="82.35"/><line x1="149.80" y1="78.15" x2="149.80" y2="82.35"/><line x1="222.00" y1="78.15" x2="222.00" y2="82.35"/><line x1="294.20" y1="78.15" x2="294.20" y2="82.35"/><line x1="366.40" y1="78.15" x2="366.40" y2="82.35"/><line x1="438.60" y1="78.15" x2="438.60" y2="82.35"/><line x1="510.80" y1="78.15" x2="510.80" y2="82.35"/><line x1="77.85" y1="77.95" x2="82.05" y2="77.95"/><line x1="77.85" y1="117.12" x2="82.05" y2="117.12"/><line x1="77.85" y1="156.28" x2="82.05" y2="156.28"/><line x1="77.85" y1="195.44" x2="82.05" y2="195.44"/><line x1="77.85" y1="234.61" x2="82.05" y2="234.61"/><line x1="77.85" y1="273.77" x2="82.05" y2="273.77"/><line x1="77.85" y1="312.94" x2="82.05" y2="312.94"/><line x1="77.85" y1="352.10" x2="82.05" y2="352.10"/></g>
<g font-size="13.4" stroke="#000" stroke-width="0.3"><text x="78.00" y="63.4" text-anchor="middle">0</text><text x="150.20" y="63.4" text-anchor="middle">5</text><text x="222.40" y="63.4" text-anchor="middle">10</text><text x="294.60" y="63.4" text-anchor="middle">15</text><text x="366.80" y="63.4" text-anchor="middle">20</text><text x="439.00" y="63.4" text-anchor="middle">25</text><text x="511.20" y="63.4" text-anchor="middle">30</text><text x="63.9" y="82.35" text-anchor="end">0</text><text x="63.9" y="121.52" text-anchor="end">-0.5</text><text x="63.9" y="160.68" text-anchor="end">-1</text><text x="63.9" y="199.84" text-anchor="end">-1.5</text><text x="63.9" y="239.01" text-anchor="end">-2</text><text x="63.9" y="278.17" text-anchor="end">-2.5</text><text x="63.9" y="317.34" text-anchor="end">-3</text><text x="63.9" y="356.50" text-anchor="end">-3.5</text></g>
<path d="M77.60,77.95 C80.01,79.78 87.23,84.35 92.04,88.92 C96.85,93.49 101.67,97.14 106.48,105.37 C111.29,113.59 116.11,129.69 120.92,138.26 C125.73,146.84 130.55,151.48 135.36,156.83 C140.17,162.18 144.99,167.27 149.80,170.38 C154.61,173.49 159.43,171.95 164.24,175.47 C169.05,179.00 173.87,185.33 178.68,191.53 C183.49,197.73 188.31,204.19 193.12,212.68 C197.93,221.16 202.75,237.35 207.56,242.44 C212.37,247.53 217.19,246.23 222.00,243.23 C226.81,240.22 231.63,229.41 236.44,224.43 C241.25,219.44 246.07,216.82 250.88,213.30 C255.69,209.79 260.51,206.49 265.32,203.36 C270.13,200.22 274.95,197.21 279.76,194.51 C284.57,191.80 289.39,189.56 294.20,187.14 C299.01,184.73 303.83,182.18 308.64,180.01 C313.45,177.85 318.27,175.97 323.08,174.14 C327.89,172.31 332.71,170.61 337.52,169.05 C342.33,167.48 347.15,166.24 351.96,164.74 C356.77,163.24 361.59,161.61 366.40,160.04 C371.21,158.47 376.03,156.65 380.84,155.34 C385.65,154.03 390.47,153.25 395.28,152.21 C400.09,151.16 404.91,149.99 409.72,149.07 C414.53,148.16 419.35,147.57 424.16,146.72 C428.97,145.88 433.79,144.90 438.60,143.98 C443.41,143.07 448.23,142.09 453.04,141.24 C457.85,140.39 462.67,139.67 467.48,138.89 C472.29,138.11 479.51,136.93 481.92,136.54" fill="none" stroke="#FFC000" stroke-width="4.0" stroke-linejoin="round" stroke-linecap="round"/>
<g fill="#FFC000" stroke="#000" stroke-width="1.8"><circle cx="77.60" cy="77.95" r="5.75"/><circle cx="92.04" cy="88.92" r="5.75"/><circle cx="106.48" cy="105.37" r="5.75"/><circle cx="120.92" cy="138.26" r="5.75"/><circle cx="135.36" cy="156.83" r="5.75"/><circle cx="149.80" cy="170.38" r="5.75"/><circle cx="164.24" cy="175.47" r="5.75"/><circle cx="178.68" cy="191.53" r="5.75"/><circle cx="193.12" cy="212.68" r="5.75"/><circle cx="207.56" cy="242.44" r="5.75"/><circle cx="222.00" cy="243.23" r="5.75"/><circle cx="236.44" cy="224.43" r="5.75"/><circle cx="250.88" cy="213.30" r="5.75"/><circle cx="265.32" cy="203.36" r="5.75"/><circle cx="279.76" cy="194.51" r="5.75"/><circle cx="294.20" cy="187.14" r="5.75"/><circle cx="308.64" cy="180.01" r="5.75"/><circle cx="323.08" cy="174.14" r="5.75"/><circle cx="337.52" cy="169.05" r="5.75"/><circle cx="351.96" cy="164.74" r="5.75"/><circle cx="366.40" cy="160.04" r="5.75"/><circle cx="380.84" cy="155.34" r="5.75"/><circle cx="395.28" cy="152.21" r="5.75"/><circle cx="409.72" cy="149.07" r="5.75"/><circle cx="424.16" cy="146.72" r="5.75"/><circle cx="438.60" cy="143.98" r="5.75"/><circle cx="453.04" cy="141.24" r="5.75"/><circle cx="467.48" cy="138.89" r="5.75"/><circle cx="481.92" cy="136.54" r="5.75"/></g>
<path d="M77.60,77.95 C80.01,81.93 87.23,93.68 92.04,101.84 C96.85,110.00 101.67,119.01 106.48,126.91 C111.29,134.80 116.11,140.74 120.92,149.23 C125.73,157.72 130.55,170.51 135.36,177.82 C140.17,185.13 144.99,186.28 149.80,193.10 C154.61,199.91 159.43,210.65 164.24,218.71 C169.05,226.76 173.87,230.46 178.68,241.42 C183.49,252.39 188.31,281.24 193.12,284.51 C197.93,287.77 202.75,268.28 207.56,261.01 C212.37,253.74 217.19,247.04 222.00,240.88 C226.81,234.71 231.63,229.32 236.44,224.04 C241.25,218.75 246.07,213.55 250.88,209.15 C255.69,204.75 260.51,201.16 265.32,197.64 C270.13,194.11 274.95,190.91 279.76,188.00 C284.57,185.09 289.39,182.73 294.20,180.17 C299.01,177.61 303.83,174.88 308.64,172.65 C313.45,170.42 318.27,168.60 323.08,166.78 C327.89,164.95 332.71,163.25 337.52,161.68 C342.33,160.12 347.15,158.88 351.96,157.38 C356.77,155.88 361.59,154.24 366.40,152.68 C371.21,151.11 376.03,149.28 380.84,147.98 C385.65,146.67 390.47,145.89 395.28,144.84 C400.09,143.80 404.91,142.62 409.72,141.71 C414.53,140.80 419.35,140.21 424.16,139.36 C428.97,138.51 433.79,137.53 438.60,136.62 C443.41,135.71 448.23,134.73 453.04,133.88 C457.85,133.03 462.67,132.31 467.48,131.53 C472.29,130.74 479.51,129.57 481.92,129.18" fill="none" stroke="#FF8A2A" stroke-width="4.0" stroke-linejoin="round" stroke-linecap="round"/>
<g fill="#FF8A2A" stroke="#000" stroke-width="1.8"><path d="M77.60,72.65L83.19,83.30L72.01,83.30Z" stroke-linejoin="round"/><path d="M92.04,96.54L97.63,107.19L86.45,107.19Z" stroke-linejoin="round"/><path d="M106.48,121.61L112.07,132.26L100.89,132.26Z" stroke-linejoin="round"/><path d="M120.92,143.93L126.51,154.58L115.33,154.58Z" stroke-linejoin="round"/><path d="M135.36,172.52L140.95,183.17L129.77,183.17Z" stroke-linejoin="round"/><path d="M149.80,187.80L155.39,198.45L144.21,198.45Z" stroke-linejoin="round"/><path d="M164.24,213.41L169.83,224.06L158.65,224.06Z" stroke-linejoin="round"/><path d="M178.68,236.13L184.27,246.77L173.09,246.77Z" stroke-linejoin="round"/><path d="M193.12,279.21L198.71,289.86L187.53,289.86Z" stroke-linejoin="round"/><path d="M207.56,255.71L213.15,266.36L201.97,266.36Z" stroke-linejoin="round"/><path d="M222.00,235.58L227.59,246.23L216.41,246.23Z" stroke-linejoin="round"/><path d="M236.44,218.74L242.03,229.39L230.85,229.39Z" stroke-linejoin="round"/><path d="M250.88,203.86L256.47,214.50L245.29,214.50Z" stroke-linejoin="round"/><path d="M265.32,192.34L270.91,202.99L259.73,202.99Z" stroke-linejoin="round"/><path d="M279.76,182.71L285.35,193.35L274.17,193.35Z" stroke-linejoin="round"/><path d="M294.20,174.87L299.79,185.52L288.61,185.52Z" stroke-linejoin="round"/><path d="M308.64,167.35L314.23,178.00L303.05,178.00Z" stroke-linejoin="round"/><path d="M323.08,161.48L328.67,172.13L317.49,172.13Z" stroke-linejoin="round"/><path d="M337.52,156.39L343.11,167.03L331.93,167.03Z" stroke-linejoin="round"/><path d="M351.96,152.08L357.55,162.73L346.37,162.73Z" stroke-linejoin="round"/><path d="M366.40,147.38L371.99,158.03L360.81,158.03Z" stroke-linejoin="round"/><path d="M380.84,142.68L386.43,153.33L375.25,153.33Z" stroke-linejoin="round"/><path d="M395.28,139.55L400.87,150.19L389.69,150.19Z" stroke-linejoin="round"/><path d="M409.72,136.41L415.31,147.06L404.13,147.06Z" stroke-linejoin="round"/><path d="M424.16,134.06L429.75,144.71L418.57,144.71Z" stroke-linejoin="round"/><path d="M438.60,131.32L444.19,141.97L433.01,141.97Z" stroke-linejoin="round"/><path d="M453.04,128.58L458.63,139.23L447.45,139.23Z" stroke-linejoin="round"/><path d="M467.48,126.23L473.07,136.88L461.89,136.88Z" stroke-linejoin="round"/><path d="M481.92,123.88L487.51,134.53L476.33,134.53Z" stroke-linejoin="round"/></g>
<path d="M77.60,77.95 C80.01,80.30 87.23,85.13 92.04,92.05 C96.85,98.97 101.67,104.19 106.48,119.46 C111.29,134.74 116.11,169.47 120.92,183.70 C125.73,197.93 130.55,197.93 135.36,204.84 C140.17,211.76 144.99,215.47 149.80,225.21 C154.61,234.95 159.43,248.66 164.24,263.28 C169.05,277.90 173.87,310.02 178.68,312.94 C183.49,315.86 188.31,289.83 193.12,280.82 C197.93,271.82 202.75,265.55 207.56,258.89 C212.37,252.23 217.19,246.36 222.00,240.88 C226.81,235.39 231.63,230.69 236.44,225.99 C241.25,221.29 246.07,216.55 250.88,212.68 C255.69,208.80 260.51,205.86 265.32,202.73 C270.13,199.60 274.95,196.58 279.76,193.88 C284.57,191.18 289.39,188.93 294.20,186.52 C299.01,184.10 303.83,181.55 308.64,179.39 C313.45,177.22 318.27,175.34 323.08,173.51 C327.89,171.68 332.71,169.99 337.52,168.42 C342.33,166.85 347.15,165.61 351.96,164.11 C356.77,162.61 361.59,160.98 366.40,159.41 C371.21,157.85 376.03,156.02 380.84,154.71 C385.65,153.41 390.47,152.62 395.28,151.58 C400.09,150.54 404.91,149.36 409.72,148.45 C414.53,147.53 419.35,146.95 424.16,146.10 C428.97,145.25 433.79,144.27 438.60,143.36 C443.41,142.44 448.23,141.46 453.04,140.61 C457.85,139.77 462.67,139.05 467.48,138.26 C472.29,137.48 479.51,136.31 481.92,135.91" fill="none" stroke="#FF0000" stroke-width="4.0" stroke-linejoin="round" stroke-linecap="round"/>
<g fill="#FF0000" stroke="#000" stroke-width="1.8"><path d="M77.60,72.80L82.75,77.95L77.60,83.10L72.45,77.95Z"/><path d="M92.04,86.90L97.19,92.05L92.04,97.20L86.89,92.05Z"/><path d="M106.48,114.31L111.63,119.46L106.48,124.61L101.33,119.46Z"/><path d="M120.92,178.55L126.07,183.70L120.92,188.85L115.77,183.70Z"/><path d="M135.36,199.69L140.51,204.84L135.36,209.99L130.21,204.84Z"/><path d="M149.80,220.06L154.95,225.21L149.80,230.36L144.65,225.21Z"/><path d="M164.24,258.13L169.39,263.28L164.24,268.43L159.09,263.28Z"/><path d="M178.68,307.79L183.83,312.94L178.68,318.09L173.53,312.94Z"/><path d="M193.12,275.67L198.27,280.82L193.12,285.97L187.97,280.82Z"/><path d="M207.56,253.74L212.71,258.89L207.56,264.04L202.41,258.89Z"/><path d="M222.00,235.73L227.15,240.88L222.00,246.03L216.85,240.88Z"/><path d="M236.44,220.84L241.59,225.99L236.44,231.14L231.29,225.99Z"/><path d="M250.88,207.53L256.03,212.68L250.88,217.83L245.73,212.68Z"/><path d="M265.32,197.58L270.47,202.73L265.32,207.88L260.17,202.73Z"/><path d="M279.76,188.73L284.91,193.88L279.76,199.03L274.61,193.88Z"/><path d="M294.20,181.37L299.35,186.52L294.20,191.67L289.05,186.52Z"/><path d="M308.64,174.24L313.79,179.39L308.64,184.54L303.49,179.39Z"/><path d="M323.08,168.36L328.23,173.51L323.08,178.66L317.93,173.51Z"/><path d="M337.52,163.27L342.67,168.42L337.52,173.57L332.37,168.42Z"/><path d="M351.96,158.96L357.11,164.11L351.96,169.26L346.81,164.11Z"/><path d="M366.40,154.26L371.55,159.41L366.40,164.56L361.25,159.41Z"/><path d="M380.84,149.56L385.99,154.71L380.84,159.86L375.69,154.71Z"/><path d="M395.28,146.43L400.43,151.58L395.28,156.73L390.13,151.58Z"/><path d="M409.72,143.30L414.87,148.45L409.72,153.60L404.57,148.45Z"/><path d="M424.16,140.95L429.31,146.10L424.16,151.25L419.01,146.10Z"/><path d="M438.60,138.21L443.75,143.36L438.60,148.51L433.45,143.36Z"/><path d="M453.04,135.46L458.19,140.61L453.04,145.76L447.89,140.61Z"/><path d="M467.48,133.11L472.63,138.26L467.48,143.41L462.33,138.26Z"/><path d="M481.92,130.76L487.07,135.91L481.92,141.06L476.77,135.91Z"/></g>

<rect x="359.2" y="257.6" width="139.20" height="82.80" fill="#fff" fill-opacity="0.2" stroke="#000" stroke-width="1.5"/>
<g font-size="13"><line x1="384.4" y1="271.80" x2="415.4" y2="271.80" stroke="#FFC000" stroke-width="3.5" stroke-linecap="round"/><g fill="#FFC000" stroke="#000" stroke-width="1.5"><circle cx="399.90" cy="271.80" r="4.60"/></g><text x="418.4" y="275.90" stroke="#000" stroke-width="0.3">Xo 2.8mm</text><line x1="384.4" y1="299.20" x2="415.4" y2="299.20" stroke="#FF8A2A" stroke-width="3.5" stroke-linecap="round"/><g fill="#FF8A2A" stroke="#000" stroke-width="1.5"><path d="M399.90,294.75L404.60,303.70L395.20,303.70Z" stroke-linejoin="round"/></g><text x="418.4" y="303.30" stroke="#000" stroke-width="0.3">Xo 3mm</text><line x1="384.4" y1="326.60" x2="415.4" y2="326.60" stroke="#FF0000" stroke-width="3.5" stroke-linecap="round"/><g fill="#FF0000" stroke="#000" stroke-width="1.5"><path d="M399.90,322.00L404.50,326.60L399.90,331.20L395.30,326.60Z"/></g><text x="418.4" y="330.70" stroke="#000" stroke-width="0.3">Xo 3.2mm</text></g>
</svg>
</body></html>
